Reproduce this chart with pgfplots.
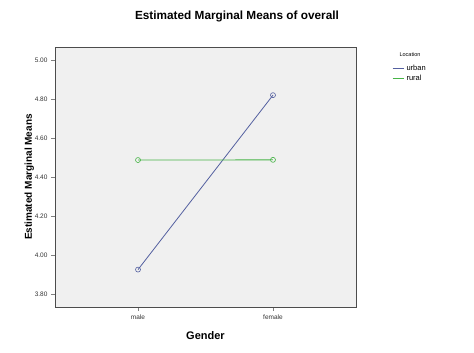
\documentclass[border=0pt]{standalone}
\usepackage{pgfplots}
\pgfplotsset{compat=1.18}
\usepackage{fontspec}
\setmainfont{Liberation Sans}
\definecolor{urbanc}{RGB}{84,96,160}
\definecolor{ruralc}{RGB}{70,180,70}
\definecolor{bgc}{RGB}{240,240,240}
\begin{document}
\begin{tikzpicture}
\path[use as bounding box] (0pt,0pt) rectangle (474pt,353pt);
\coordinate (A) at (55pt,46pt);
\node[font=\bfseries\fontsize{11.8}{13}\selectfont] at (237pt,337pt) {Estimated Marginal Means of overall};
\node[font=\fontsize{5.5}{6}\selectfont] at (410pt,298pt) {Location};
\begin{axis}[
  at={(A)}, anchor=south west,
  scale only axis, width=301pt, height=260pt,
  xmin=-0.615, xmax=1.615, ymin=3.733, ymax=5.067,
  xtick={0,1}, xticklabels={male,female},
  ytick={3.8,4.0,4.2,4.4,4.6,4.8,5.0},
  yticklabel style={/pgf/number format/.cd,fixed,fixed zerofill,precision=2},
  /pgf/number format/assume math mode=true,
  tick label style={font=\fontsize{6.5}{7}\selectfont, text=black!80},
  tick align=outside, tick pos=left,
  major tick length=4pt,
  axis line style={black!70, line width=0.8pt},
  axis background/.style={fill=bgc},
  xlabel={Gender}, ylabel={Estimated Marginal Means},
  label style={font=\bfseries\fontsize{10}{12}\selectfont},
  xlabel style={yshift=-5pt, font=\bfseries\fontsize{11}{12}\selectfont},
  ylabel style={yshift=-6pt},
  legend style={at={(1.12,0.94)}, anchor=north west, draw=none, fill=none,
    font=\fontsize{7.5}{8}\selectfont, row sep=-1pt, inner sep=0pt},
  legend cell align=left,
  legend image code/.code={\draw[#1] (0cm,0cm) -- (0.4cm,0cm);},
]
\addplot[urbanc, line width=0.8pt, mark=o, mark size=2.5pt, mark options={line width=0.6pt}]
  coordinates {(0,3.925) (1,4.82)};
\addlegendentry{urban}
\addplot[ruralc, line width=0.8pt, mark=o, mark size=2.5pt, mark options={line width=0.6pt}]
  coordinates {(0,4.487) (1,4.488)};
\addlegendentry{rural}
\end{axis}
\end{tikzpicture}
\end{document}
